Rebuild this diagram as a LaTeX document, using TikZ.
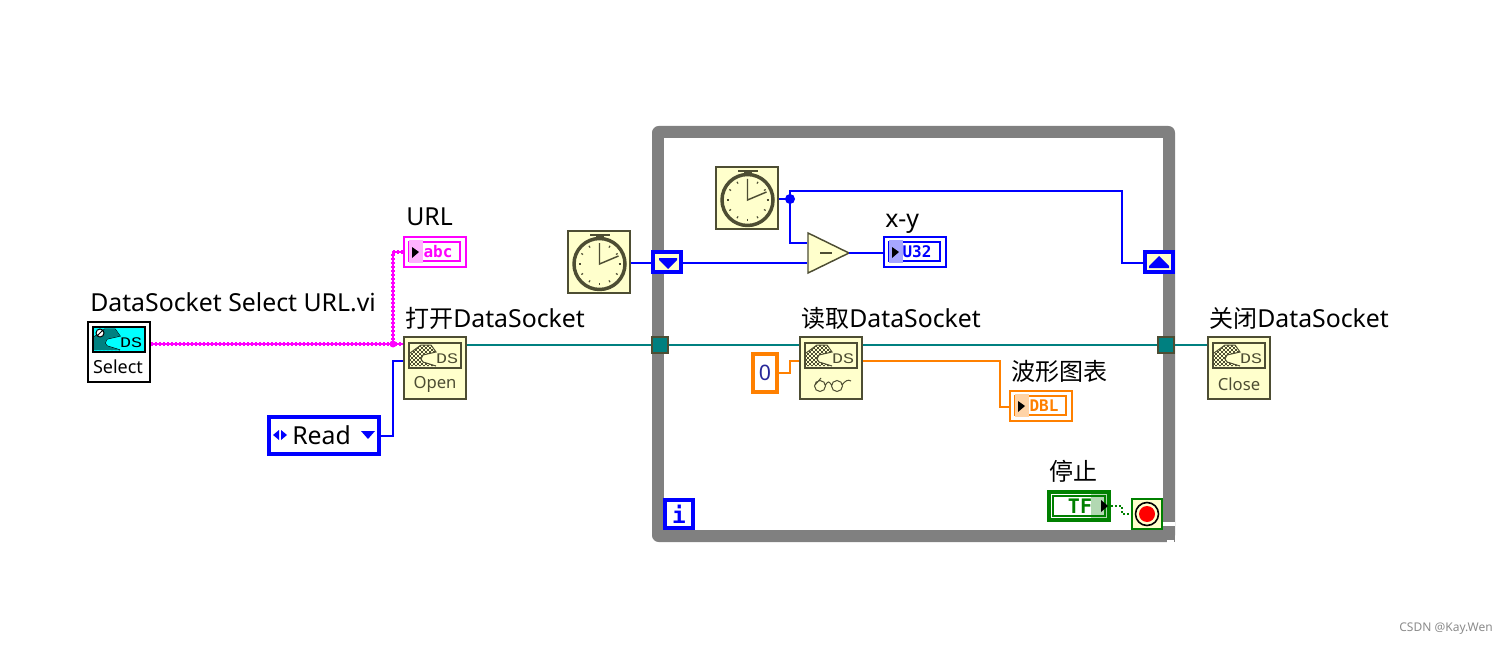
\documentclass[tikz,border=0pt]{standalone}
\usepackage{fontspec}
\usepackage{graphicx}
\setmainfont{Noto Sans}
\newfontfamily\cjk{Noto Sans CJK SC}
\newfontfamily\monob[BoldFont={DejaVu Sans Mono Bold}]{DejaVu Sans Mono}
\newfontfamily\lmono{Liberation Mono}
\definecolor{lvyellow}{HTML}{FFFFCC}
\definecolor{lvedge}{HTML}{4D4D33}
\definecolor{lvmag}{HTML}{FF00FF}
\definecolor{lvblue}{HTML}{0000FF}
\definecolor{lvorange}{HTML}{FF8000}
\definecolor{lvgreen}{HTML}{008000}
\definecolor{lvteal}{HTML}{008080}
\definecolor{lvgray}{HTML}{808080}
\definecolor{lvcyan}{HTML}{00FFFF}
\tikzset{
  lbl/.style={inner sep=0pt,anchor=west,text=black,font=\fontsize{18.6}{20}\selectfont},
  vibox/.style={draw=lvedge,fill=lvyellow,line width=1.5pt,minimum width=46.5pt,minimum height=46.5pt,inner sep=0pt},
  selbox/.style={draw=black,fill=white,line width=1.5pt,minimum width=46.5pt,minimum height=45pt,inner sep=0pt},
  wblue/.style={draw=lvblue,line width=1.5pt},
  wteal/.style={draw=lvteal,line width=1.5pt},
  worange/.style={draw=lvorange,line width=1.5pt},
  wgreen/.style={draw=lvgreen,line width=1.5pt,dash pattern=on 1.5pt off 1.5pt},
  wpinkA/.style={draw=lvmag,line width=1.1pt},
  wpinkB/.style={draw=lvmag,line width=3pt,dash pattern=on 1.5pt off 1.5pt},
  indbox/.style={line width=1.5pt,minimum width=46.5pt,minimum height=22.5pt,inner sep=0pt,fill=white},
  tunnel/.style={draw=lvedge,fill=lvteal,line width=1.5pt,minimum size=12pt,inner sep=0pt},
  regbox/.style={draw=lvblue,fill=lvyellow,line width=3pt,minimum width=21pt,minimum height=15pt,inner sep=0pt},
  iconsmall/.style={inner sep=0pt,font=\fontsize{12.5}{14}\selectfont,text=lvedge},
}
% Data socket glyph: #1 = NW corner of inner frame, #2 edge colour, #3 glyph colour, #4 background
\newcommand\dsglyph[4]{%
  \begin{scope}[shift={#1}]
    \fill[#4] (0,0) rectangle (52,25);
    \begin{scope}
      \clip (1,10) -- (12,2) -- (22,2) -- (27,9) -- (14,12) -- (12,16) -- (14,19) -- (27,23) -- (1,23) -- cycle;
      \foreach \i in {0,...,13}{\foreach \j in {0,...,12}{
        \pgfmathparse{int(mod(\i+\j,2))}
        \ifnum\pgfmathresult=0 \fill[#3] (2*\i,2*\j) rectangle ++(2,2);\fi}}
    \end{scope}
    \draw[#2,line width=0.75pt] (1,10) -- (12,2) -- (22,2) -- (27,9) -- (14,12) -- (12,16) -- (14,19) -- (27,23);
    \draw[#2,line width=1.5pt] (0,0) rectangle (52,25);
    \node[inner sep=0pt,text=#2] at (38,16) {\scalebox{1.25}[1]{\lmono\fontsize{11}{11}\selectfont DS}};
  \end{scope}}
% clock face around centre #1
\newcommand\clockface[1]{%
  \begin{scope}[shift={#1}]
    \draw[lvedge,line width=2.6pt] (0,0) circle (25.5);
    \fill[lvedge] (-10,-29.5) rectangle (10,-27.5);
    \fill[lvedge] (-4,-29) rectangle (4,-25);
    \foreach \a in {0,30,...,330}{\draw[lvedge,line width=0.9pt] (\a:19) -- (\a:21);}
    \draw[lvedge,line width=1.1pt] (0,-21) -- (0,0) -- (19,-8);
  \end{scope}}
% indicator: #1 name #2 NW corner #3 colour #4 light colour #5 text #6 text x
\newcommand\indic[6]{%
  \begin{scope}[shift={#2}]
    \node[indbox,draw=#3] (#1) at (32,16) {};
    \draw[#3,line width=1.5pt] (6,6) rectangle (57,25);
    \fill[#4] (6,4) rectangle (20,27);
    \node[inner sep=0pt,text=#3] at (#6,16) {\monob\bfseries\fontsize{12}{12}\selectfont #5};
    \fill[black] (9,11) -- (16,16) -- (9,22) -- cycle;
  \end{scope}}
\begin{document}
\begin{tikzpicture}[x=0.75pt,y=-0.75pt]
\useasboundingbox (0,0) rectangle (1508,645);
\fill[white] (0,0) rectangle (1508,645);

% loop frame
\fill[lvgray,rounded corners=5pt] (652,126) -- (1175,126) -- (1175,542) -- (652,542) -- cycle;
\fill[white] (664,138) rectangle (1163,530);
\fill[lvgray] (1160,530) rectangle (1175,542);
\fill[white] (1163,522) rectangle (1175,526);
\fill[white] (1167,540) rectangle (1174,543);

% coordinates of wire terminals
\coordinate (openA) at (403,345);
\coordinate (openB) at (403,361);
\coordinate (jn) at (393,344);
\coordinate (urlIn) at (403,252);
\coordinate (rdIn) at (799,361);
\coordinate (dot) at (790,199);
\coordinate (subA) at (807,243);
\coordinate (subB) at (807,263);
\coordinate (rdOut) at (863,361);
\coordinate (dblIn) at (1009,407);
\coordinate (tfOut) at (1111,506);
\coordinate (stopIn) at (1131,514);
\coordinate (zeroOut) at (779,373);

% nodes
\node[selbox] (sel) at (119,352) {};
\dsglyph{(93,327)}{black}{lvteal}{lvcyan}
\fill[lvteal] (94,337) -- (105,329) -- (115,329) -- (120,336) -- (107,339) -- (105,343) -- (107,346) -- (120,350) -- (94,350) -- cycle;
\fill[white] (100,333) circle (4);
\draw[black,line width=0.75pt] (100,333) circle (4) (97,336) -- (103,330);
\node[inner sep=0pt,text=black,font=\fontsize{13.5}{14}\selectfont] at (118,367) {Select};

\node[vibox] (open) at (435,368) {};
\dsglyph{(409,343)}{lvedge}{lvedge}{lvyellow}
\node[iconsmall] at (435,384) {Open};

\node[vibox] (dsread) at (831,368) {};
\dsglyph{(805,343)}{lvedge}{lvedge}{lvyellow}
\draw[lvedge,line width=0.75pt] (820,386) circle (5.5) (837,386) circle (5.5) (825.5,385) .. controls (828,381) and (829,381) .. (831.5,385) (842,385) .. controls (845,381) and (848,379) .. (851,381) (815,385) -- (821,378);

\node[vibox] (close) at (1239,368) {};
\dsglyph{(1213,343)}{lvedge}{lvedge}{lvyellow}
\node[iconsmall] at (1239,384) {Close};

\node[draw=lvblue,fill=white,line width=3pt,minimum width=82.5pt,minimum height=27.5pt,inner sep=0pt] (rd) at (324,435.5) {};
\node[inner sep=0pt,anchor=west,font=\fontsize{18.6}{20}\selectfont] at (292,435) {Read};
\fill[lvblue] (279,430) -- (273,435) -- (279,440) -- cycle (281,430) -- (287,435) -- (281,440) -- cycle;
\fill[lvblue] (361,431) -- (375,431) -- (368,439) -- cycle;

\indic{url}{(403,236)}{lvmag}{lvmag!30}{abc}{35}
\indic{u32}{(883,236)}{lvblue}{lvblue!35}{U32}{34}
\indic{dbl}{(1009,390)}{lvorange}{lvorange!35}{DBL}{35}

\node[vibox,minimum size=46.5pt] (clkA) at (599,262) {};
\clockface{(599.5,264)}
\node[vibox,minimum size=46.5pt] (clkB) at (747,198) {};
\clockface{(747.5,200)}

\node[regbox] (regL) at (667,262) {};
\fill[lvblue] (659,258) rectangle (677,260) (659,260) -- (677,260) -- (668,269) -- cycle;
\node[regbox] (regR) at (1159,262) {};
\fill[lvblue] (1149,266) rectangle (1169,268) (1149,266) -- (1169,266) -- (1159,256) -- cycle;

\node[tunnel] (tunL) at (660,345) {};
\node[tunnel] (tunR) at (1166,345) {};

\draw[lvedge,fill=lvyellow,line width=1.1pt] (808,233) -- (849,253) -- (808,273) -- cycle;
\coordinate (subOut) at (849,253);
\draw[lvedge,line width=1pt] (820,253) -- (832,253);

\node[draw=lvorange,fill=white,line width=3pt,minimum width=18pt,minimum height=28.5pt,inner sep=0pt] (zero) at (765,373) {};
\node[inner sep=0pt,text=lvedge!50!lvblue,font=\fontsize{16}{18}\selectfont] at (765,373) {0};

\node[draw=lvblue,fill=white,line width=3pt,minimum width=20.5pt,minimum height=20.5pt,inner sep=0pt] (iter) at (679,514) {};
\node[inner sep=0pt,text=lvblue] at (679,514) {\monob\bfseries\fontsize{17}{18}\selectfont i};

% stop terminal
\node[draw=lvgreen,fill=white,line width=3pt,minimum width=45pt,minimum height=21pt,inner sep=0pt] (tf) at (1079,506) {};
\draw[lvgreen,line width=1.5pt] (1053,496) rectangle (1105,516);
\node[inner sep=0pt,text=lvgreen] at (1080,506) {\monob\bfseries\fontsize{15}{15}\selectfont TF};
\fill[lvgreen,opacity=.3] (1091,494) rectangle (1111,518);
\fill[black] (1101,500) -- (1108,506) -- (1101,512) -- cycle;

\node[draw=lvgreen,fill=lvyellow,line width=1.5pt,minimum size=22.5pt,inner sep=0pt] (stp) at (1147,514) {};
\draw[black,line width=1.2pt,fill=lvyellow] (1147,514) circle (11.5);
\fill[red] (1147,514) circle (8);

% wires
\foreach \s in {wpinkA,wpinkB}{
  \draw[\s] (sel.east |- jn) -- (jn -| openA);
  \draw[\s] (jn) -- (jn |- urlIn) -- (urlIn);
}
\fill[lvmag] (jn) circle (3.5);
\draw[wblue] (rd.east) -| (jn |- openB) -- (openB);
\draw[wteal] (open.east |- tunL) -- (tunL.west);
\draw[wteal] (tunL.east) -- (rdIn |- tunL);
\draw[wteal] (dsread.east |- tunL) -- (tunR.west);
\draw[wteal] (tunR.east) -- (close.west |- tunR);
\draw[wblue] (clkA.east |- subB) -- (regL.west |- subB);
\draw[wblue] (regL.east |- subB) -- (subB);
\draw[wblue] (clkB.east |- dot) -- (dot);
\fill[lvblue] (dot) circle (5);
\draw[wblue] (dot) -- (790,191) -| (1122,263) -- (regR.west |- subB);
\draw[wblue] (dot) -- (dot |- subA) -- (subA);
\draw[wblue] (subOut) -- (u32.west |- subOut);
\draw[worange] (zeroOut) -- (790,373) -- (790,361) -- (rdIn);
\draw[worange] (rdOut) -| (1000,407) -- (dblIn);
\draw[wgreen] (tfOut) -- (1122,506) -- (1122,514) -- (stopIn);

% labels
\node[lbl] (l1) at (90,302) {DataSocket Select URL.vi};
\node[lbl] (l2) at (406,217) {URL};
\node[lbl] (l3) at (405,318) {{\cjk\fontsize{18}{20}\selectfont 打开}DataSocket};
\node[lbl] (l4) at (801,318) {{\cjk\fontsize{18}{20}\selectfont 读取}DataSocket};
\node[lbl] (l5) at (1209,318) {{\cjk\fontsize{18}{20}\selectfont 关闭}DataSocket};
\node[lbl] (l6) at (1011,371) {\cjk\fontsize{18}{20}\selectfont 波形图表};
\node[lbl] (l7) at (885,224) {x-y};
\node[lbl] (l8) at (1049,471) {\cjk\fontsize{18}{20}\selectfont 停止};
\node[inner sep=0pt,anchor=east,text=black!45,font=\fontsize{9}{10}\selectfont] (wm) at (1493,629) {CSDN @Kay.Wen};
\end{tikzpicture}
\end{document}
